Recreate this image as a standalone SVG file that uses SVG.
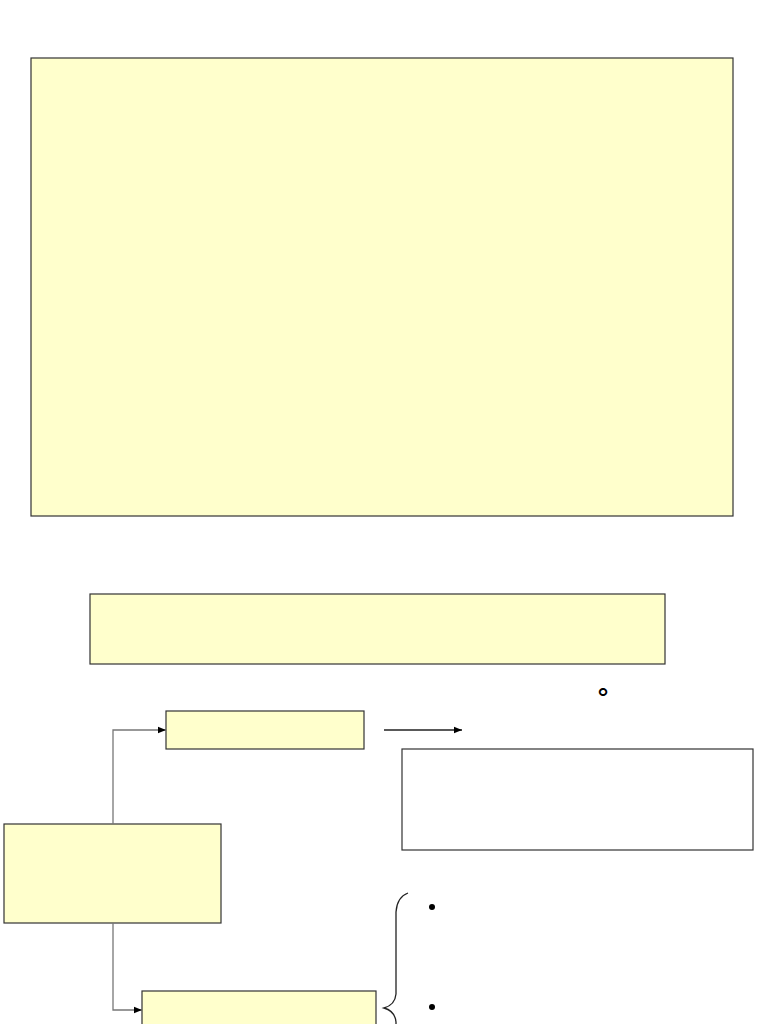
<svg xmlns="http://www.w3.org/2000/svg" width="768" height="1024" viewBox="0 0 768 1024">
<style>
.box{fill:#FFFFCC;stroke:#333;stroke-width:1.2}
.wbox{fill:#fff;stroke:#333;stroke-width:1.2}
.conn{fill:none;stroke:#777;stroke-width:1.3}
.arr{fill:none;stroke:#222;stroke-width:1.3}
.t{font-family:"Noto Sans CJK SC","Noto Sans",sans-serif;font-size:26px;font-weight:bold;fill:#000}
</style>
<defs>
<marker id="ah" viewBox="0 0 10 10" refX="10" refY="5" markerWidth="8" markerHeight="8" markerUnits="userSpaceOnUse" orient="auto">
<path d="M0,1 L10,5 L0,9 Z" fill="#000"/>
</marker>
</defs>
<rect width="768" height="1024" fill="#fff"/>
<g id="box-top"><rect class="box" x="31" y="58" width="702" height="458"/></g>
<g id="box-mid"><rect class="box" x="90" y="594" width="575" height="70"/></g>
<g id="box-small"><rect class="box" x="166" y="711" width="198" height="38"/></g>
<g id="box-white"><rect class="wbox" x="402" y="749" width="351" height="101"/></g>
<g id="box-left"><rect class="box" x="4" y="824" width="217" height="99"/></g>
<g id="box-bottom"><rect class="box" x="142" y="991" width="234" height="40"/></g>
<g id="period"><text class="t" x="598" y="694">。</text></g>
<g id="bullets">
<circle cx="432" cy="907" r="3" fill="#000"/>
<circle cx="432" cy="1007" r="3" fill="#000"/>
</g>
<g id="brace">
<path class="arr" d="M408,893 Q397,897 396,912 L396,994 Q395,1005 384,1008 Q395,1011 396,1022 L396,1030"/>
</g>
<g id="connectors">
<path class="conn" d="M113,824 L113,730 L166,730" marker-end="url(#ah)"/>
<path class="conn" d="M113,923 L113,1010 L142,1010" marker-end="url(#ah)"/>
<path class="arr" d="M384,730 L462,730" marker-end="url(#ah)"/>
</g>
</svg>
